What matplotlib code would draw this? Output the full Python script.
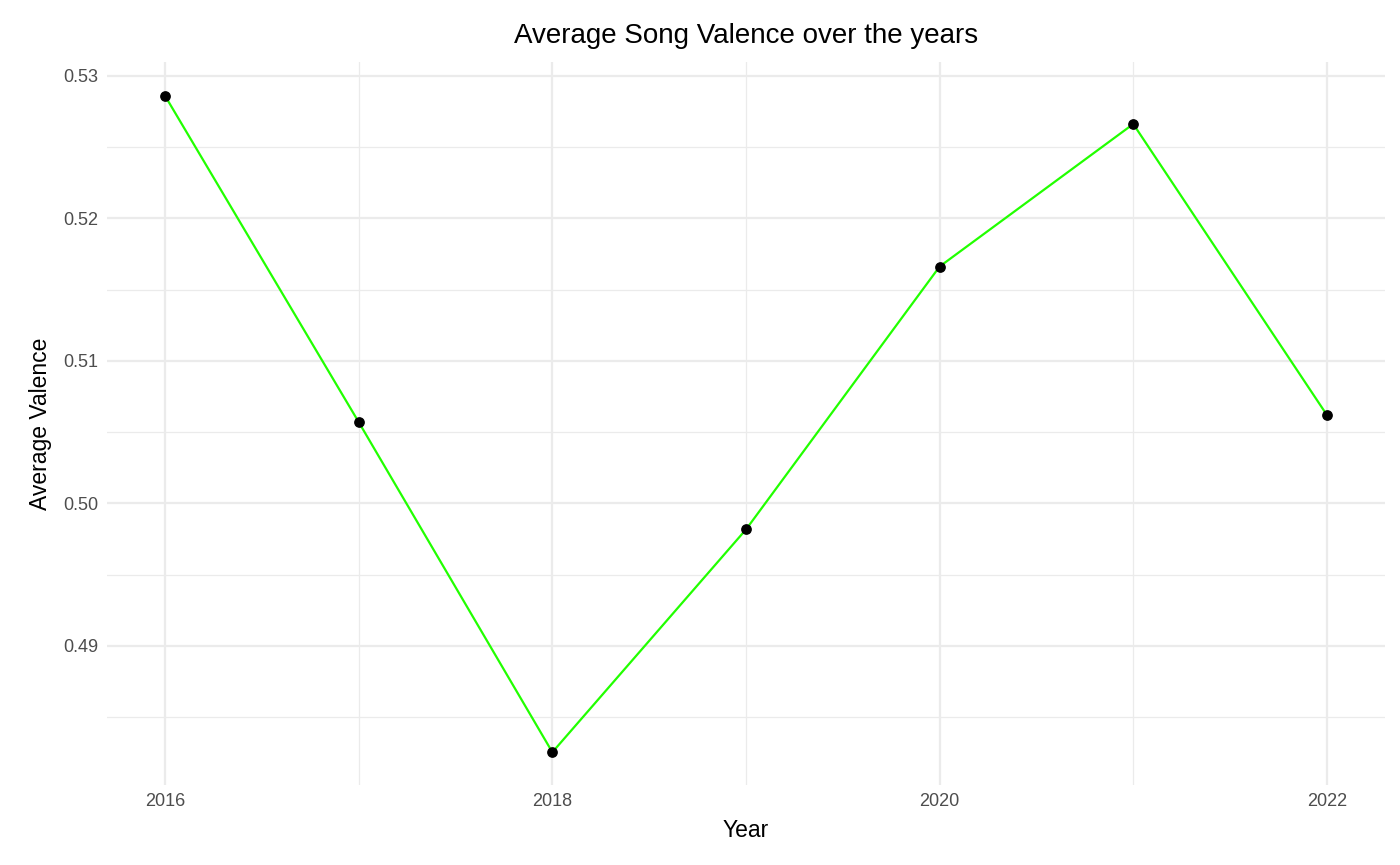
import matplotlib
matplotlib.use("Agg")
import matplotlib.pyplot as plt
from matplotlib.ticker import MultipleLocator

plt.rcParams['font.family'] = ['Liberation Sans', 'DejaVu Sans']

years = [2016, 2017, 2018, 2019, 2020, 2021, 2022]
valence = [0.52859, 0.50570, 0.48254, 0.49817, 0.51662, 0.52662, 0.50620]

fig = plt.figure(figsize=(14, 8.65), dpi=100)
ax = fig.add_axes([107/1400, 1-785/865, (1385-107)/1400, (785-62)/865])
ax.plot(years, valence, color="#22FF00", lw=1.6, zorder=3)
ax.scatter(years, valence, color="black", s=45, zorder=4)
ax.set_xlim(2015.7, 2022.3)
ax.set_ylim(0.48024, 0.53097)
ax.xaxis.set_major_locator(MultipleLocator(2))
ax.xaxis.set_minor_locator(MultipleLocator(1))
ax.yaxis.set_major_locator(MultipleLocator(0.01))
ax.yaxis.set_minor_locator(MultipleLocator(0.005))
ax.yaxis.set_major_formatter(plt.FuncFormatter(lambda v, p: f"{v:.2f}"))
ax.grid(which="major", color="#EBEBEB", lw=1.6)
ax.grid(which="minor", color="#EBEBEB", lw=0.9)
ax.set_axisbelow(True)
for s in ax.spines.values():
    s.set_visible(False)
ax.tick_params(which="both", length=0, labelsize=13, labelcolor="#4D4D4D", pad=6)
ax.set_xlabel("Year", fontsize=16.5, labelpad=6)
ax.set_ylabel("Average Valence", fontsize=16.5, labelpad=8)
ax.set_title("Average Song Valence over the years", fontsize=20, pad=14)
fig.savefig("out.png", dpi=100)
